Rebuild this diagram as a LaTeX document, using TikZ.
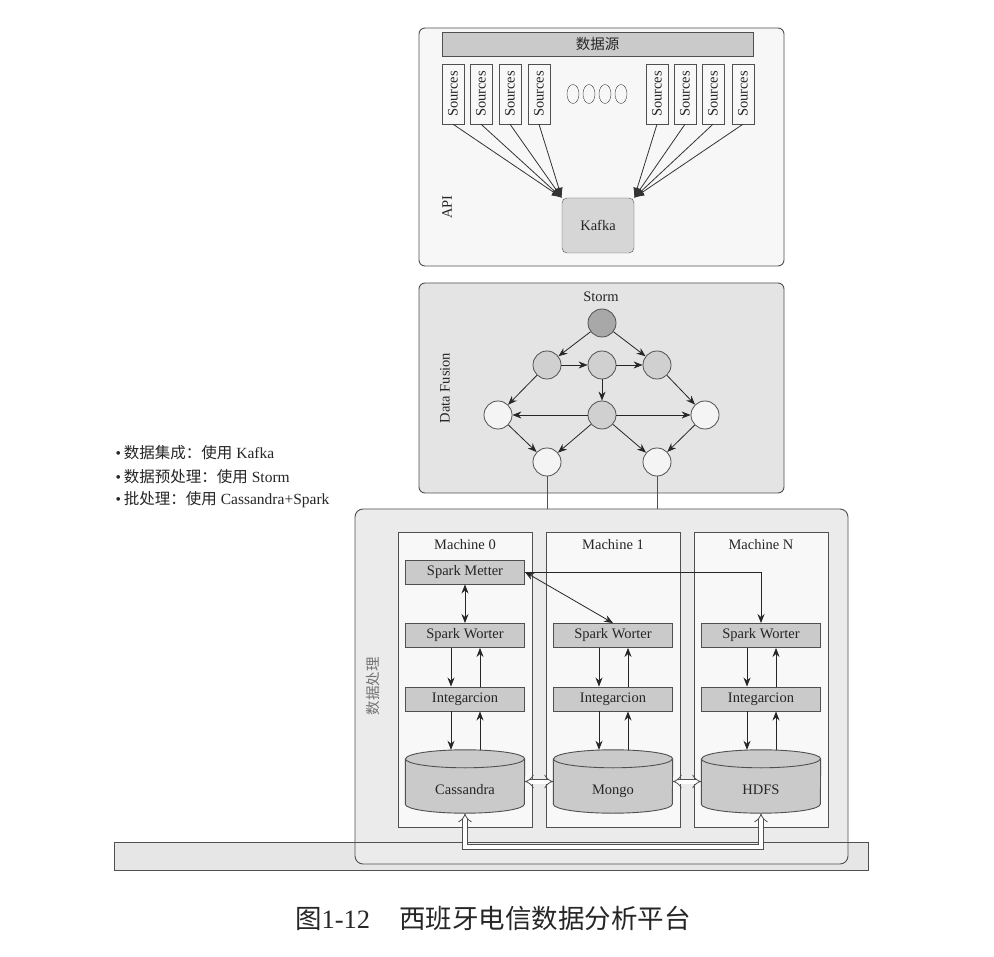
\documentclass[tikz,border=0pt]{standalone}
\usepackage{fontspec}
\setmainfont{Liberation Serif}
\newfontfamily\cjkfont{Noto Sans CJK SC}
\newcommand{\zh}[1]{{\cjkfont #1}}
\usetikzlibrary{shapes.geometric,arrows.meta,positioning}

\definecolor{edgegray}{HTML}{505050}
\definecolor{apifill}{HTML}{F7F7F7}
\definecolor{stormfill}{HTML}{E4E4E4}
\definecolor{procfill}{HTML}{EBEBEB}
\definecolor{barfill}{HTML}{E6E6E6}
\definecolor{boxlight}{HTML}{F8F8F8}
\definecolor{boxgray}{HTML}{CACACA}
\definecolor{kafkafill}{HTML}{D6D6D6}
\definecolor{nodedark}{HTML}{A8A8A8}
\definecolor{nodemid}{HTML}{D0D0D0}
\definecolor{nodelight}{HTML}{F4F4F4}

\begin{document}
\begin{tikzpicture}[x=1pt,y=-1pt,
	every node/.style={font=\fontsize{14.5}{17}\selectfont, text=black!85},
	panel/.style={draw=edgegray, line width=0.9pt, rounded corners=6pt, inner sep=0pt},
	srcbox/.style={draw=edgegray, fill=boxlight, minimum width=22, minimum height=60, inner sep=0pt},
	graybox/.style={draw=edgegray, fill=boxgray, line width=0.9pt, minimum width=119, minimum height=24, inner sep=0pt},
	machine/.style={draw=edgegray, fill=boxlight, line width=0.9pt, minimum width=134, minimum height=295, inner sep=0pt},
	vertex/.style={circle, draw=edgegray, line width=0.8pt, minimum size=28, inner sep=0pt},
	flow/.style={draw=black!85, line width=0.8pt, -{Stealth[length=9pt,width=7pt]}},
	biflow/.style={draw=black!85, line width=0.8pt, {Stealth[length=9pt,width=7pt]}-{Stealth[length=9pt,width=7pt]}},
	feed/.style={draw=black!80, line width=0.8pt, -{Latex[length=10pt,width=8pt]}},
	hollow/.style={draw=edgegray, line width=0.8pt, double=white, double distance=4pt, {Implies[scale=1.5]}-{Implies[scale=1.5]}},
	]
	\useasboundingbox[fill=white] (0,0) rectangle (994,957);

	% API / Kafka
	\node[panel, fill=apifill, minimum width=365, minimum height=238] (api) at (601.5,147) {};
	\node[draw=edgegray, fill=boxgray, minimum width=311, minimum height=24, inner sep=0pt] (dsrc) at (597.5,44) {\zh{数据源}};
	\foreach \x [count=\i] in {453,481,510,539}
		\node[srcbox] (sl\i) at (\x,94) {\rotatebox{90}{Sources}};
	\foreach \x [count=\i] in {657,685,713,743}
		\node[srcbox] (sr\i) at (\x,94) {\rotatebox{90}{Sources}};
	\foreach \x [count=\i] in {573,589,605,621}
		\node[ellipse, draw=black!75, minimum width=12, minimum height=19, inner sep=0pt] (dot\i) at (\x,94) {};
	\node[draw=edgegray, fill=kafkafill, rounded corners=5pt, minimum width=72, minimum height=55] (kafka) at (598,225.5) {Kafka};
	\foreach \i in {1,...,4} {
		\draw[feed] (sl\i.south) -- (kafka.north west);
		\draw[feed] (sr\i.south) -- (kafka.north east);
	}
	\node[rotate=90] (apilbl) at (447,207) {API};

	% Storm
	\node[panel, fill=stormfill, minimum width=365, minimum height=210] (storm) at (601.5,388) {};
	\node (stormlbl) at (601,297) {Storm};
	\node[rotate=90] (fusionlbl) at (445,388) {Data Fusion};
	\node[vertex, fill=nodedark] (n0) at (602,323) {};
	\node[vertex, fill=nodemid] (n1) at (547,365) {};
	\node[vertex, fill=nodemid] (n2) at (602,365) {};
	\node[vertex, fill=nodemid] (n3) at (657,365) {};
	\node[vertex, fill=nodelight] (n4) at (498,415) {};
	\node[vertex, fill=nodemid] (n5) at (602,415) {};
	\node[vertex, fill=nodelight] (n6) at (705,415) {};
	\node[vertex, fill=nodelight] (n7) at (547,462) {};
	\node[vertex, fill=nodelight] (n8) at (657,462) {};
	\foreach \a/\b in {n0/n1, n0/n3, n1/n2, n2/n3, n2/n5, n1/n4, n3/n6,
		n5/n4, n5/n6, n4/n7, n5/n7, n5/n8, n6/n8}
		\draw[flow] (\a) -- (\b);

	% notes
	\node[anchor=west, font=\fontsize{15.5}{18}\selectfont] (note1) at (112,453) {•\hspace{3pt}\zh{数据集成：使用} Kafka};
	\node[anchor=west, font=\fontsize{15.5}{18}\selectfont] (note2) at (112,477) {•\hspace{3pt}\zh{数据预处理：使用} Storm};
	\node[anchor=west, font=\fontsize{15.5}{18}\selectfont] (note3) at (112,500) {•\hspace{3pt}\zh{批处理：使用} Cassandra+Spark};

	% processing
	\node[fill=barfill, minimum width=753, minimum height=27, inner sep=0pt] (bus) at (491.5,856.5) {};
	\node[panel, fill=procfill, rounded corners=8pt, minimum width=493, minimum height=355] (proc) at (601.5,686.5) {};
	\draw[edgegray, line width=0.9pt] (bus.north west) rectangle (bus.south east);
	\draw[edgegray, line width=0.8pt] (n7) -- (n7 |- proc.north);
	\draw[edgegray, line width=0.8pt] (n8) -- (n8 |- proc.north);
	\node[rotate=90, text=black!55] (proclbl) at (373,686) {\zh{数据处理}};

	\foreach \x/\idx/\dbname in {465/0/Cassandra, 613/1/Mongo, 761/N/HDFS} {
		\node[machine] (m\idx) at (\x,679.5) {};
		\node (m\idx-lbl) at (\x,545) {Machine \idx};
		\node[graybox] (w\idx) at (\x,635.5) {Spark Worter};
		\node[graybox] (i\idx) at (\x,699) {Integarcion};
		\node[minimum width=119, minimum height=63, inner sep=0pt] (db\idx) at (\x,781.5) {};
		\draw[edgegray, line width=0.9pt, fill=boxgray] ([yshift=-9pt]db\idx.north west)
			-- ([yshift=9pt]db\idx.south west)
			arc[start angle=180, end angle=360, x radius=59.5pt, y radius=9pt]
			-- ([yshift=-9pt]db\idx.north east)
			arc[start angle=0, end angle=180, x radius=59.5pt, y radius=9pt] -- cycle;
		\draw[edgegray, line width=0.9pt] ([yshift=-9pt]db\idx.north west)
			arc[start angle=180, end angle=360, x radius=59.5pt, y radius=9pt];
		\node[text height=10pt, text depth=3pt] (db\idx-txt) at ([yshift=-9pt]db\idx.center) {\dbname};
		\draw[flow] ([xshift=-14pt]w\idx.south) -- ([xshift=-14pt]i\idx.north);
		\draw[flow] ([xshift=15pt]i\idx.north) -- ([xshift=15pt]w\idx.south);
		\draw[flow] ([xshift=-14pt]i\idx.south) -- ([xshift=-14pt]db\idx.north);
		\draw[flow] ([xshift=15pt]db\idx.north) -- ([xshift=15pt]i\idx.south);
	}
	\node[graybox] (met) at (465,572) {Spark Metter};
	\draw[biflow] (met) -- (w0);
	\draw[biflow] (met.east) -- (w1.north);
	\draw[flow] (met.east) -| (wN.north);

	\draw[hollow] (db0.east) -- (db1.west);
	\draw[hollow] (db1.east) -- (dbN.west);
	\coordinate (busline) at (465,847);
	\draw[hollow] (db0.south) -- (busline) -| (dbN.south);

	% caption
	\node (caption) at (493,918) {\fontsize{26.5}{31}\selectfont\zh{图}1-12\hspace{1.1em}\zh{西班牙电信数据分析平台}};
\end{tikzpicture}
\end{document}
